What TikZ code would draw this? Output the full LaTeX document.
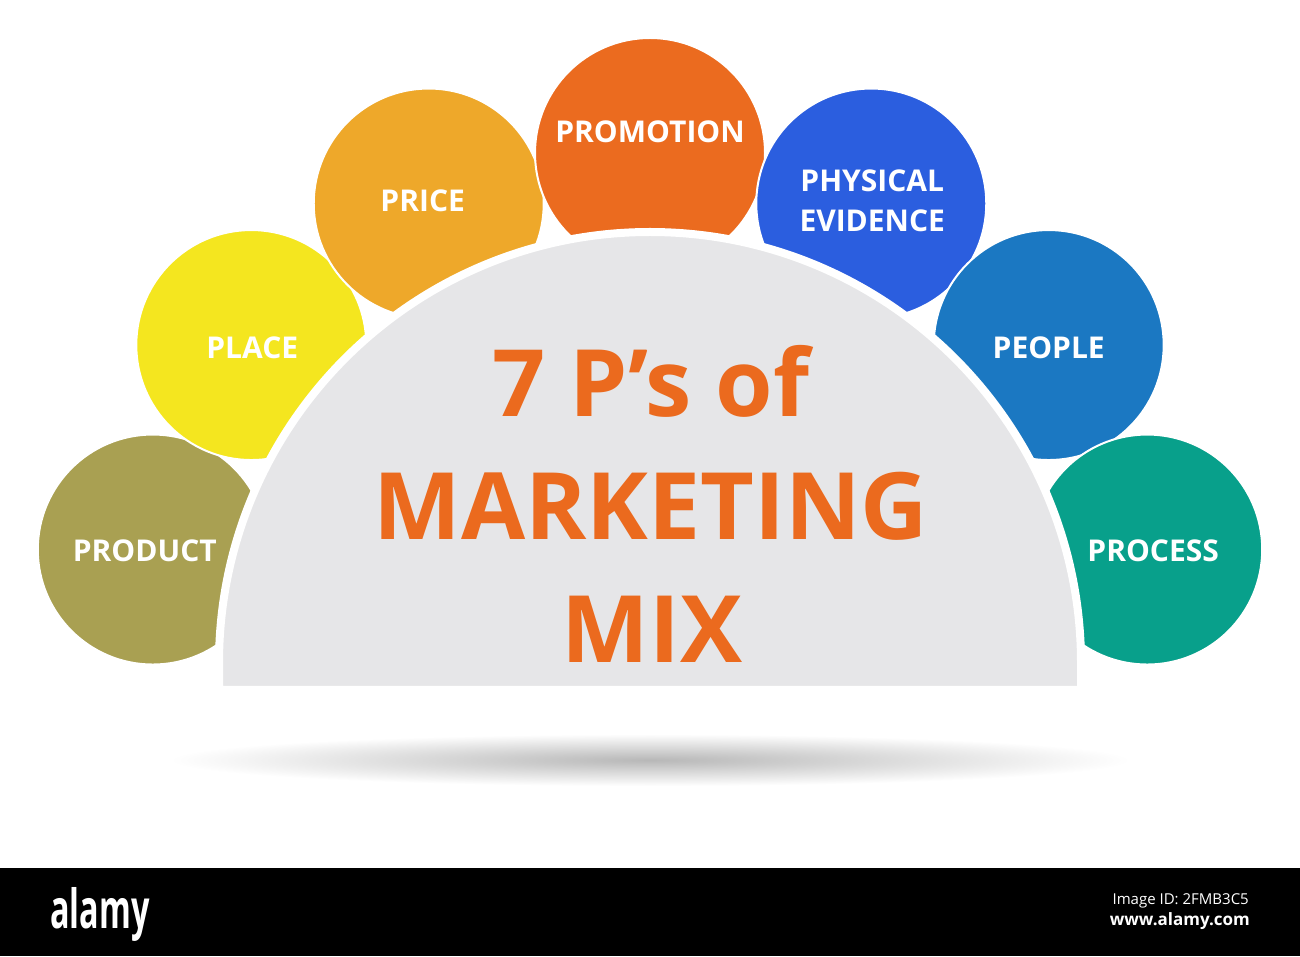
\documentclass[tikz,border=0pt]{standalone}
\usepackage{fontspec}
\setmainfont{Open Sans}
\definecolor{cproduct}{HTML}{A9A052}
\definecolor{cplace}{HTML}{F4E61F}
\definecolor{cprice}{HTML}{EEA82A}
\definecolor{cpromotion}{HTML}{EB6B1F}
\definecolor{cphysical}{HTML}{2B5EDF}
\definecolor{cpeople}{HTML}{1B78C2}
\definecolor{cprocess}{HTML}{08A08B}
\definecolor{basegray}{HTML}{E6E6E8}
\definecolor{titleorange}{HTML}{EB6A1E}

\begin{document}
\begin{tikzpicture}[x=1pt, y=1pt,
  pcircle/.style={circle, draw=white, line width=2pt, minimum size=230pt, inner sep=0pt},
  plabel/.style={text=white, font=\fontsize{30}{40}\selectfont\bfseries, align=center, inner sep=0pt},
  ptitle/.style={text=titleorange, font=\fontsize{93}{110}\selectfont\bfseries, anchor=base, inner sep=0pt}]
  \useasboundingbox (0,0) rectangle (1300,956);
  \fill [white] (0,0) rectangle (1300,956);
  \fill [black] (0,0) rectangle (1300,88);
  \coordinate (c) at (650,293);
  \node [pcircle, fill=cproduct] (product) at ([shift={(167.143:510)}]c) {};
  \node [pcircle, fill=cplace] (place) at ([shift={(141.429:510)}]c) {};
  \node [pcircle, fill=cprice] (price) at ([shift={(115.714:510)}]c) {};
  \node [pcircle, fill=cpromotion] (promotion) at ([shift={(90:510)}]c) {};
  \node [pcircle, fill=cphysical] (physical) at ([shift={(64.286:510)}]c) {};
  \node [pcircle, fill=cpeople] (people) at ([shift={(38.571:510)}]c) {};
  \node [pcircle, fill=cprocess] (process) at ([shift={(12.857:510)}]c) {};
  \shade [inner color=black!28, outer color=white] (650,196) ellipse (480 and 26);
  \draw [white, line width=8pt, fill=basegray] (219,266) -- (219,293) arc (180:0:431) -- (1081,266) -- cycle;
  \node [plabel] (productlabel) at ([shift={(-8,-1.5)}]product.center) {PRODUCT};
  \node [plabel] (placelabel) at ([shift={(1,-3)}]place.center) {PLACE};
  \node [plabel] (pricelabel) at ([shift={(-6,2.5)}]price.center) {PRICE};
  \node [plabel] (promotionlabel) at ([shift={(0,21)}]promotion.center) {PROMOTION};
  \node [plabel] (physicallabel) at ([shift={(1,3)}]physical.center) {PHYSICAL\\EVIDENCE};
  \node [plabel] (peoplelabel) at ([shift={(0,-2.5)}]people.center) {PEOPLE};
  \node [plabel] (processlabel) at ([shift={(6,-1)}]process.center) {PROCESS};
  \node [ptitle] (title) at (651,539) {7 P’s of};
  \node [ptitle] (marketing) at (651,416) {MARKETING};
  \node [ptitle] (mix) at (652,293) {MIX};
  \node [text=white, font=\fontsize{54}{54}\selectfont\bfseries, anchor=base west, inner sep=0pt] (logo) at (50,28) {\scalebox{0.6}[1]{alamy}};
  \node [text=white, font=\fontsize{15}{15}\selectfont, anchor=base east, inner sep=0pt] (imageid) at (1249,52) {Image ID: 2FMB3C5};
  \node [text=white, font=\fontsize{17}{17}\selectfont\bfseries, anchor=base east, inner sep=0pt] (website) at (1250,31) {www.alamy.com};
\end{tikzpicture}
\end{document}
